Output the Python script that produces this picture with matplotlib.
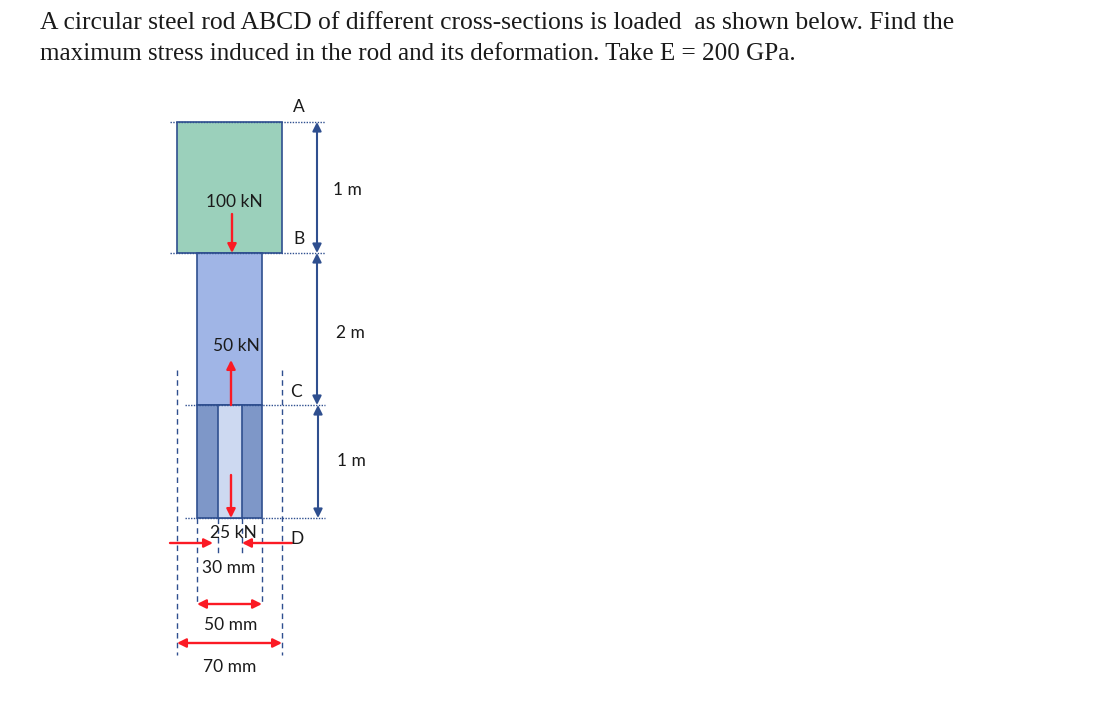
import matplotlib
matplotlib.use("Agg")
import matplotlib.pyplot as plt
from matplotlib.patches import Rectangle

# everything is in picture pixels, y pointing down
title_lines = ["A circular steel rod ABCD of different cross-sections is loaded  as shown below. Find the",
               "maximum stress induced in the rod and its deformation. Take E = 200 GPa."]
title_sizes = [18.42, 18.05]

# x0, x1, y0, y1, colour
sections = [(177, 282, 122, 253, "#9bd0bb"),
            (197, 262, 253, 405, "#a0b5e6"),
            (197, 262, 405, 518, "#7e97c8"),
            (218, 242, 405, 518, "#cdd9f1")]

# y, x0, x1
dotted_lines = [(122, 170, 325), (253, 170, 325), (405, 185, 325), (518, 185, 325)]
# x, y0, y1
dashed_lines = [(177, 370, 655), (282, 370, 655), (197, 518, 604), (262, 518, 604),
                (218, 518, 553), (242, 518, 553)]
# x, y0, y1
dim_arrows = [(317, 122, 253), (317, 253, 405), (318, 405, 518)]
# start and end of the load arrows
load_arrows = [((232, 214), (232, 253)), ((231, 405), (231, 360)), ((231, 475), (231, 518)),
               ((170, 543), (213, 543)), ((292, 543), (242, 543))]
# y, x0, x1
width_arrows = [(604, 197, 262), (643, 177, 282)]

# text, x, y
labels = [("A", 299, 105), ("B", 299, 237), ("C", 296, 390), ("D", 297, 537),
          ("1 m", 347, 188), ("2 m", 350, 331), ("1 m", 351, 459),
          ("100 kN", 234, 200), ("50 kN", 236, 344), ("25 kN", 233, 531),
          ("30 mm", 229, 566), ("50 mm", 231, 623), ("70 mm", 230, 665)]

navy = "#2f4f8f"
red = "#fb1a24"

fig = plt.figure(figsize=(10.98, 7.01), dpi=100)
ax = fig.add_axes([0, 0, 1, 1])
ax.set_xlim(0, 1098)
ax.set_ylim(701, 0)
ax.axis("off")

for y, line, size in zip([29, 60], title_lines, title_sizes):
    ax.text(40, y, line, family="Liberation Serif", fontsize=size, color="#1a1a1a", va="baseline")

for x0, x1, y0, y1, c in sections:
    ax.add_patch(Rectangle((x0, y0), x1 - x0, y1 - y0, facecolor=c, edgecolor=navy, linewidth=1.2, zorder=2))

for y, x0, x1 in dotted_lines:
    ax.plot([x0, x1], [y, y], color=navy, lw=1, ls=(0, (1, 1)), zorder=3)
for x, y0, y1 in dashed_lines:
    ax.plot([x, x], [y0, y1], color=navy, lw=1, ls=(0, (4, 3)), zorder=1)

for x, y0, y1 in dim_arrows:
    ax.annotate("", xy=(x, y1), xytext=(x, y0),
                arrowprops=dict(arrowstyle="<|-|>", color=navy, lw=1.5, mutation_scale=13,
                                shrinkA=0, shrinkB=0), zorder=4)
for start, end in load_arrows:
    ax.annotate("", xy=end, xytext=start,
                arrowprops=dict(arrowstyle="-|>", color=red, lw=1.7, mutation_scale=13,
                                shrinkA=0, shrinkB=0), zorder=5)
for y, x0, x1 in width_arrows:
    ax.annotate("", xy=(x1, y), xytext=(x0, y),
                arrowprops=dict(arrowstyle="<|-|>", color=red, lw=1.7, mutation_scale=13,
                                shrinkA=0, shrinkB=0), zorder=5)

for text, x, y in labels:
    ax.text(x, y + 2, text, family="Lato", fontsize=12.5, color="#1a1a1a", ha="center", va="center", zorder=6)

fig.savefig("out.png", dpi=100)
